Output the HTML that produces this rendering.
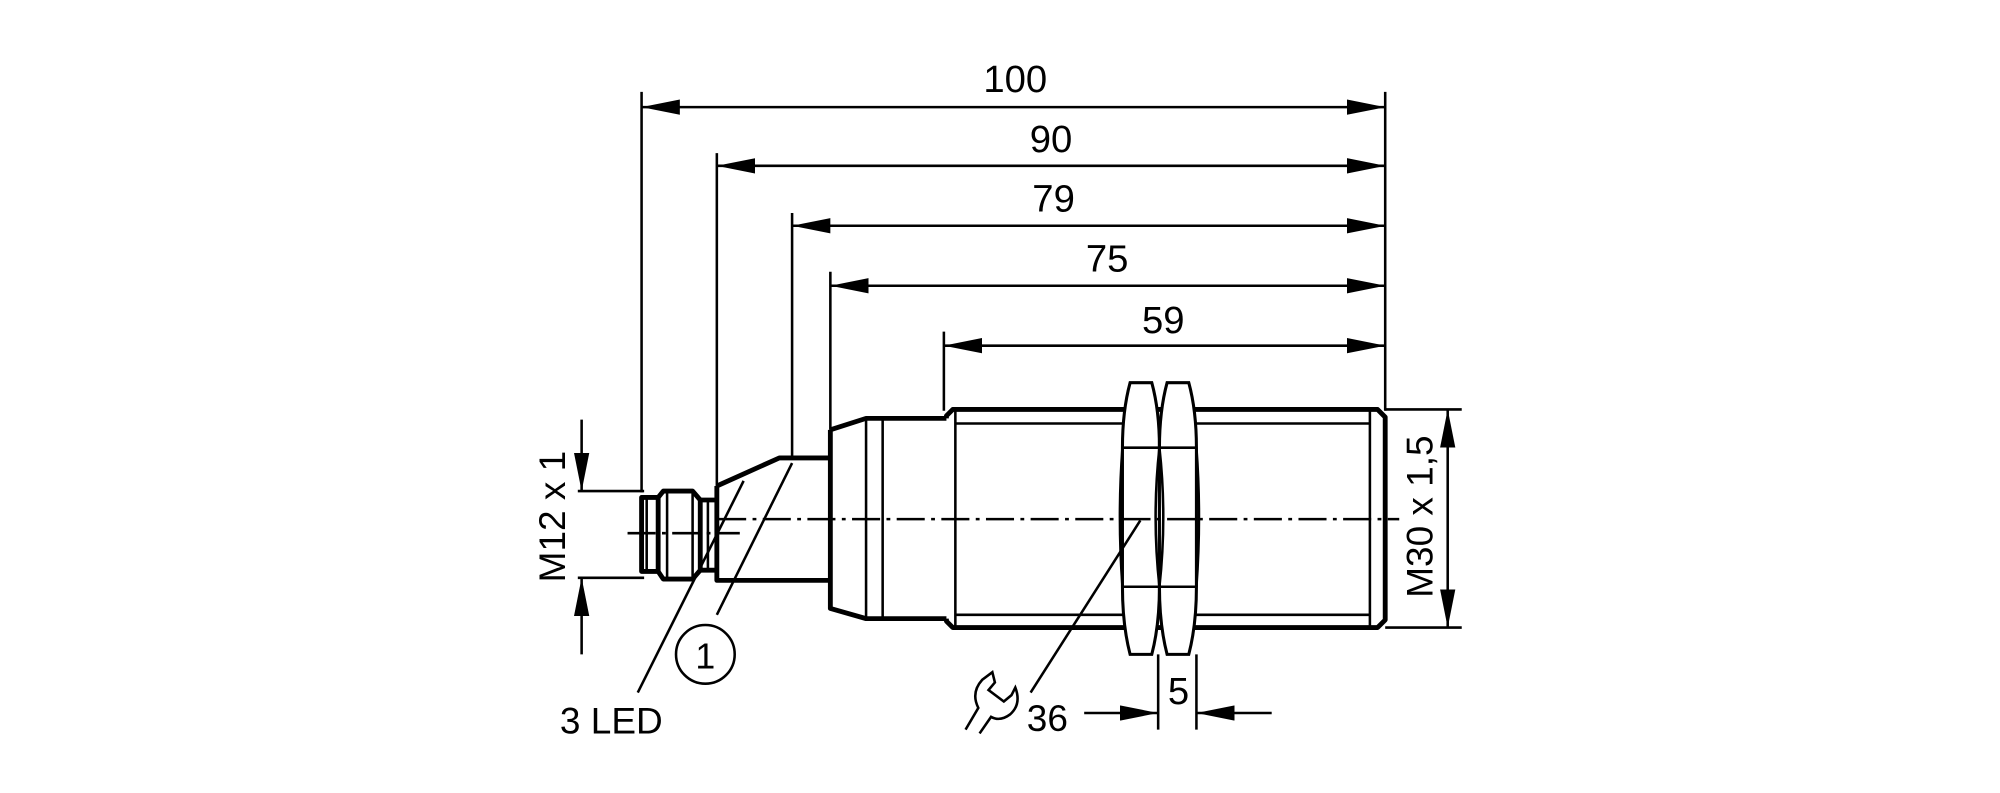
<!DOCTYPE html>
<html><head><meta charset="utf-8"><style>
html,body{margin:0;padding:0;background:#fff;}
svg{display:block;}
text{font-family:"Liberation Sans",Arial,sans-serif;fill:#000;}
</style></head><body>
<svg width="2000" height="793" viewBox="0 0 1568 621.7" xmlns="http://www.w3.org/2000/svg">
<defs>
<marker id="a" viewBox="0 0 30 12" refX="30" refY="6" markerWidth="30" markerHeight="12" markerUnits="userSpaceOnUse" orient="auto-start-reverse">
<path d="M0,0 L30,6 L0,12 Z" fill="#000"/>
</marker>
</defs>
<g stroke="#000" fill="none" stroke-width="2">
<line x1="503" y1="72" x2="503" y2="386"/>
<line x1="562" y1="120" x2="562" y2="382"/>
<line x1="621" y1="167" x2="621" y2="360"/>
<line x1="651" y1="213" x2="651" y2="337"/>
<line x1="740" y1="260" x2="740" y2="322"/>
<line x1="1086" y1="72" x2="1086" y2="322"/>
<line x1="503" y1="84" x2="1086" y2="84" marker-start="url(#a)" marker-end="url(#a)"/>
<line x1="562" y1="130" x2="1086" y2="130" marker-start="url(#a)" marker-end="url(#a)"/>
<line x1="621" y1="177" x2="1086" y2="177" marker-start="url(#a)" marker-end="url(#a)"/>
<line x1="651" y1="224" x2="1086" y2="224" marker-start="url(#a)" marker-end="url(#a)"/>
<line x1="740" y1="271" x2="1086" y2="271" marker-start="url(#a)" marker-end="url(#a)"/>
<line x1="453" y1="385" x2="505" y2="385"/>
<line x1="453" y1="453" x2="505" y2="453"/>
<line x1="456" y1="329" x2="456" y2="385" marker-end="url(#a)"/>
<line x1="456" y1="513" x2="456" y2="453" marker-end="url(#a)"/>
<line x1="1086" y1="321" x2="1146" y2="321"/>
<line x1="1086" y1="492" x2="1146" y2="492"/>
<line x1="1135" y1="321" x2="1135" y2="492" marker-start="url(#a)" marker-end="url(#a)"/>
<line x1="908" y1="513" x2="908" y2="572"/>
<line x1="938" y1="513" x2="938" y2="572"/>
<line x1="850" y1="559" x2="908" y2="559" marker-end="url(#a)"/>
<line x1="997" y1="559" x2="938" y2="559" marker-end="url(#a)"/>
<line x1="500" y1="543" x2="583" y2="377"/>
<line x1="562" y1="482" x2="621" y2="363"/>
<circle cx="553" cy="513" r="23"/>
<line x1="563" y1="407" x2="1097" y2="407" stroke-dasharray="22,5,3,5"/>
<line x1="492" y1="418" x2="580" y2="418" stroke-dasharray="22,5,3,5"/>
</g>
<g stroke="#000" fill="none" stroke-width="3.8" stroke-linejoin="round">
<path d="M503,390 L503,448 L516,448 L516,390 Z"/>
<path d="M516,390 L520,385 L543,385 L549,392 L549,447 L543,454 L520,454 L516,448"/>
<path d="M549,392 L562,392 M549,447 L562,447"/>
<path d="M562,381 L562,455 L651,455 M562,381 L611,359 L651,359"/>
<path d="M651,337 L651,477 L679,485 L742,485 M651,337 L679,328 L742,328"/>
<path d="M742,328 L742,326 L747,321 L1080,321 L1086,327 L1086,486 L1080,492 L747,492 L742,487 L742,485"/>
</g>
<g stroke="#000" fill="none" stroke-width="2">
<line x1="507" y1="390" x2="507" y2="448"/>
<line x1="523" y1="385" x2="523" y2="454"/>
<line x1="543" y1="385" x2="543" y2="454"/>
<line x1="555" y1="392" x2="555" y2="447"/>
<line x1="679" y1="328" x2="679" y2="485"/>
<line x1="692" y1="328" x2="692" y2="485"/>
<line x1="749" y1="321" x2="749" y2="492"/>
<line x1="1074" y1="321" x2="1074" y2="492"/>
<line x1="749" y1="332" x2="1074" y2="332"/>
<line x1="749" y1="482" x2="1074" y2="482"/>
</g>
<g stroke="#000" fill="#fff" stroke-width="2.4">
<path d="M886,300 L903,300 Q909,322 909,351 L909,460 Q909,490 903,513 L886,513 Q880,490 880,460 L880,351 Q880,322 886,300 Z"/>
<path d="M915,300 L932,300 Q938,322 938,351 L938,460 Q938,490 932,513 L915,513 Q909,490 909,460 L909,351 Q909,322 915,300 Z"/>
</g>
<g stroke="#000" fill="none" stroke-width="2">
<path d="M880,351 L909,351 L938,351 M880,460 L938,460"/>
<path d="M909,351 Q903,405 909,460 M909,351 Q915,405 909,460"/>
<path d="M880,351 Q876,405 880,460 M938,351 Q942,405 938,460"/>
<line x1="808" y1="543" x2="894" y2="408"/>
<line x1="880" y1="407" x2="938" y2="407" stroke-dasharray="22,5,3,5"/>
<path d="M757,572 L767,555 Q761,543 770,533 L778,527 L780,535 L775,541 L787,550 L793,545 L796,539 Q801,552 792,560 Q784,566 777,562 L768,575"/>
</g>
<g font-size="30" text-anchor="middle">
<text x="796" y="72">100</text>
<text x="824" y="119">90</text>
<text x="826" y="166">79</text>
<text x="868" y="213">75</text>
<text x="912" y="261">59</text>
<text x="924" y="552">5</text>
<text x="553" y="524" font-size="28">1</text>
</g>
<text x="439" y="575" font-size="29">3 LED</text>
<text x="805" y="573" font-size="29">36</text>
<text x="0" y="0" font-size="29" text-anchor="middle" transform="translate(443,405) rotate(-90)">M12 x 1</text>
<text x="0" y="0" font-size="29" text-anchor="middle" transform="translate(1123,405) rotate(-90)">M30 x 1,5</text>
</svg>
</body></html>
